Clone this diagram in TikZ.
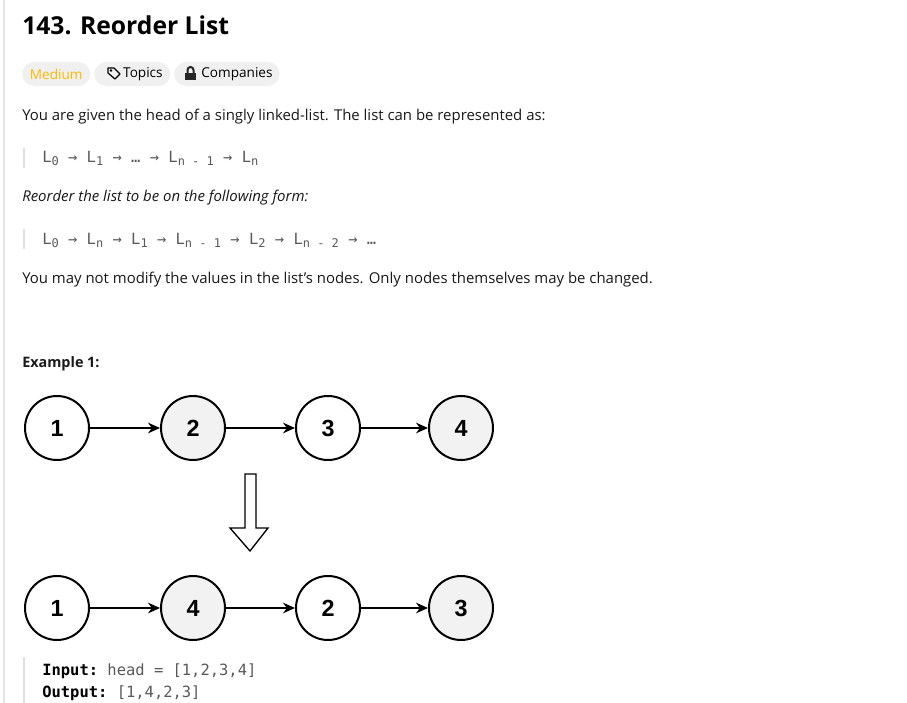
\documentclass[tikz,border=0pt]{standalone}
\usepackage{fontspec}
\setmainfont{Open Sans}
\setmonofont{DejaVu Sans Mono}
\newfontfamily\nodefont{Liberation Sans}
\usetikzlibrary{arrows.meta}
\definecolor{codegray}{HTML}{5A5A5A}
\definecolor{pill}{HTML}{F0F0F0}
\definecolor{medium}{HTML}{FFB800}
\definecolor{nodegray}{HTML}{F2F2F2}
\newcommand{\lsub}[1]{\raisebox{-0.35ex}{\fontsize{9}{9}\selectfont #1}}
\begin{document}
\begin{tikzpicture}[x=0.75pt,y=-0.75pt,
  txt/.style={anchor=west,inner sep=0pt,font=\fontsize{11.2}{13}\selectfont,text=black!90},
  code/.style={anchor=west,inner sep=0pt,font=\ttfamily\fontsize{11.6}{13}\selectfont,text=codegray},
  pillbox/.style={fill=pill,rounded corners=9pt,inner sep=0pt,minimum height=18pt,anchor=west,font=\fontsize{10.2}{11}\selectfont},
  ln/.style={circle,draw=black,line width=1.5pt,minimum size=48pt,inner sep=0pt,font=\nodefont\bfseries\fontsize{17.5}{17.5}\selectfont},
  wn/.style={ln,fill=white},
  gn/.style={ln,fill=nodegray},
  lnk/.style={line width=1.1pt,-{Stealth[length=9pt,width=8pt]}},
  bar/.style={draw=black!12,line width=1.5pt}]
\useasboundingbox (0,0) rectangle (907,703);
\fill[white] (0,0) rectangle (907,703);
\draw[black!10,line width=1.5pt] (4,0) -- (4,703);
\node[anchor=west,inner sep=0pt,font=\fontsize{18.5}{22}\selectfont\bfseries] (title) at (22,25) {143. Reorder List};
\node[pillbox,minimum width=51pt,text=medium] (med) at (22,74) {Medium};
\node[pillbox,minimum width=57pt] (top) at (94,74) {\hspace{16pt}Topics};
\node[pillbox,minimum width=79pt] (comp) at (174,74) {\hspace{15pt}Companies};
\draw[line width=0.9pt,line join=round] (108,68) -- (114,68) -- (120,74) -- (115,79) -- (108,73) -- cycle;
\fill (111,70.5) circle (1pt);
\fill[black!85] (185,73) rectangle (196,80);
\draw[black!85,line width=1.5pt] (187.5,73) -- (187.5,70) arc (180:360:3) -- (193.5,73);
\node[txt] (l1) at (22,117) {You are given the head of a singly linked-list. The list can be represented as:};
\draw[bar] (24,148) -- (24,168);
\node[code] (c1) at (42,158) {L\lsub{0} → L\lsub{1} → … → L\lsub{n - 1} → L\lsub{n}};
\node[txt,font=\itshape\fontsize{11.2}{13}\selectfont] (l2) at (22,198) {Reorder the list to be on the following form:};
\draw[bar] (24,229) -- (24,249);
\node[code] (c2) at (42,240) {L\lsub{0} → L\lsub{n} → L\lsub{1} → L\lsub{n - 1} → L\lsub{2} → L\lsub{n - 2} → …};
\node[txt] (l3) at (22,280) {You may not modify the values in the list's nodes. Only nodes themselves may be changed.};
\node[txt,font=\bfseries\fontsize{10.8}{12}\selectfont] (ex) at (22,364) {Example 1:};
\node[wn] (a1) at (57,428) {1};
\node[gn] (a2) at (193,428) {2};
\node[wn] (a3) at (328,428) {3};
\node[gn] (a4) at (461,428) {4};
\draw[lnk] (a1) -- (a2); \draw[lnk] (a2) -- (a3); \draw[lnk] (a3) -- (a4);
\node[wn] (b1) at (57,608) {1};
\node[gn] (b2) at (193,608) {4};
\node[wn] (b3) at (328,608) {2};
\node[gn] (b4) at (461,608) {3};
\draw[lnk] (b1) -- (b2); \draw[lnk] (b2) -- (b3); \draw[lnk] (b3) -- (b4);
\draw[line width=1pt,fill=white,line join=miter] (245,474) -- (256,474) -- (256,528) -- (268,528) -- (250,551) -- (230,528) -- (245,528) -- cycle;
\draw[bar] (24,657) -- (24,703);
\node[code,text=black] (in) at (42,671) {\textbf{Input:} \textcolor{codegray}{head = [1,2,3,4]}};
\node[code,text=black] (out) at (42,693) {\textbf{Output:} \textcolor{codegray}{[1,4,2,3]}};
\end{tikzpicture}
\end{document}
